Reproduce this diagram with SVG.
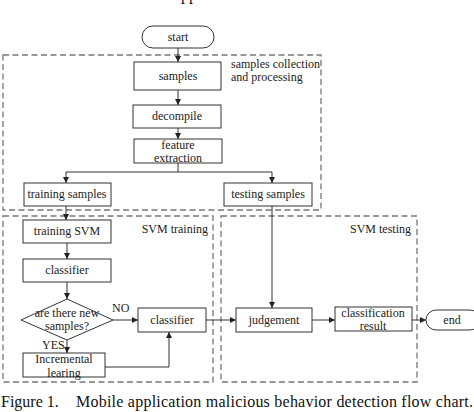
<svg xmlns="http://www.w3.org/2000/svg" width="474" height="412" viewBox="0 0 474 412">
<defs>
<marker id="ah" markerUnits="userSpaceOnUse" markerWidth="6" markerHeight="6" refX="6" refY="3" orient="auto">
<path d="M0,0 L6,3 L0,6 z" fill="#222"/>
</marker>
<style>
.t{font-family:"Liberation Serif","Times New Roman",serif;font-size:12px;fill:#222}
.c{text-anchor:middle}
.box{fill:#fff;stroke:#333;stroke-width:1}
.grp{fill:none;stroke:#777;stroke-width:1.3;stroke-dasharray:6,3.5}
.ln{fill:none;stroke:#333;stroke-width:1}
.cap{font-family:"Liberation Serif","Times New Roman",serif;font-size:16px;fill:#111}
</style>
</defs>
<rect width="474" height="412" fill="#fff"/>
<text class="cap" x="181" y="-0.5">pp</text>

<g id="group-collection">
<rect class="grp" x="3" y="55" width="318" height="155"/>
<text class="t" x="231" y="68">samples collection</text>
<text class="t" x="231" y="80.5">and processing</text>
</g>
<g id="group-training">
<rect class="grp" x="3" y="216" width="210" height="166"/>
<text class="t" x="208" y="233" text-anchor="end">SVM training</text>
</g>
<g id="group-testing">
<rect class="grp" x="221" y="216" width="196" height="166"/>
<text class="t" x="411" y="233" text-anchor="end">SVM testing</text>
</g>

<g id="connectors">
<line class="ln" x1="178" y1="48" x2="178" y2="62" marker-end="url(#ah)"/>
<line class="ln" x1="178" y1="90" x2="178" y2="105" marker-end="url(#ah)"/>
<line class="ln" x1="178" y1="128" x2="178" y2="139" marker-end="url(#ah)"/>
<polyline class="ln" points="178,163 178,172"/>
<polyline class="ln" points="272,172 66,172 66,183" marker-end="url(#ah)"/>
<line class="ln" x1="272" y1="172" x2="272" y2="183" marker-end="url(#ah)"/>
<line class="ln" x1="66" y1="206" x2="66" y2="220" marker-end="url(#ah)"/>
<line class="ln" x1="67" y1="243" x2="67" y2="259" marker-end="url(#ah)"/>
<line class="ln" x1="67" y1="282" x2="67" y2="299" marker-end="url(#ah)"/>
<line class="ln" x1="113" y1="320" x2="138" y2="320" marker-end="url(#ah)"/>
<line class="ln" x1="67" y1="340" x2="67" y2="353" marker-end="url(#ah)"/>
<polyline class="ln" points="105,367 169,367 169,332" marker-end="url(#ah)"/>
<line class="ln" x1="206" y1="320" x2="236" y2="320" marker-end="url(#ah)"/>
<line class="ln" x1="272" y1="206" x2="272" y2="308" marker-end="url(#ah)"/>
<line class="ln" x1="312" y1="320" x2="335" y2="320" marker-end="url(#ah)"/>
<line class="ln" x1="412" y1="320" x2="426" y2="320" marker-end="url(#ah)"/>
<text class="t" x="112" y="312">NO</text>
<text class="t" x="42" y="349">YES</text>
</g>

<g id="start">
<rect class="box" x="142" y="26" width="72" height="22" rx="11"/>
<text class="t c" x="178" y="41">start</text>
</g>
<g id="samples">
<rect class="box" x="134" y="62" width="87" height="28"/>
<text class="t c" x="178" y="80">samples</text>
</g>
<g id="decompile">
<rect class="box" x="133" y="105" width="88" height="23"/>
<text class="t c" x="177" y="120">decompile</text>
</g>
<g id="feature">
<rect class="box" x="134" y="139" width="88" height="24"/>
<text class="t c" x="178" y="149">feature</text>
<text class="t c" x="178" y="162">extraction</text>
</g>
<g id="training-samples">
<rect class="box" x="24" y="183" width="87" height="23"/>
<text class="t c" x="67" y="198">training samples</text>
</g>
<g id="testing-samples">
<rect class="box" x="224" y="183" width="88" height="23"/>
<text class="t c" x="268" y="198">testing samples</text>
</g>
<g id="training-svm">
<rect class="box" x="23" y="220" width="88" height="23"/>
<text class="t c" x="67" y="235">training SVM</text>
</g>
<g id="classifier1">
<rect class="box" x="23" y="259" width="88" height="23"/>
<text class="t c" x="67" y="274">classifier</text>
</g>
<g id="decision">
<polygon class="box" points="67,299 113,320 67,340 21,320"/>
<text class="t c" x="67" y="317">are there new</text>
<text class="t c" x="67" y="330">samples?</text>
</g>
<g id="incremental">
<rect class="box" x="23" y="353" width="82" height="24"/>
<text class="t c" x="64" y="363">Incremental</text>
<text class="t c" x="64" y="376.5">learing</text>
</g>
<g id="classifier2">
<rect class="box" x="138" y="308" width="68" height="24"/>
<text class="t c" x="172" y="324">classifier</text>
</g>
<g id="judgement">
<rect class="box" x="236" y="308" width="76" height="24"/>
<text class="t c" x="274" y="324">judgement</text>
</g>
<g id="classification-result">
<rect class="box" x="335" y="307" width="77" height="24"/>
<text class="t c" x="373" y="317">classification</text>
<text class="t c" x="373" y="330">result</text>
</g>
<g id="end">
<rect class="box" x="426" y="310" width="54" height="20" rx="10"/>
<text class="t c" x="452" y="324">end</text>
</g>

<g id="caption">
<text class="cap" x="1" y="407">Figure 1.</text>
<text class="cap" x="76" y="407" textLength="397" lengthAdjust="spacing">Mobile application malicious behavior detection flow chart.</text>
</g>
</svg>
